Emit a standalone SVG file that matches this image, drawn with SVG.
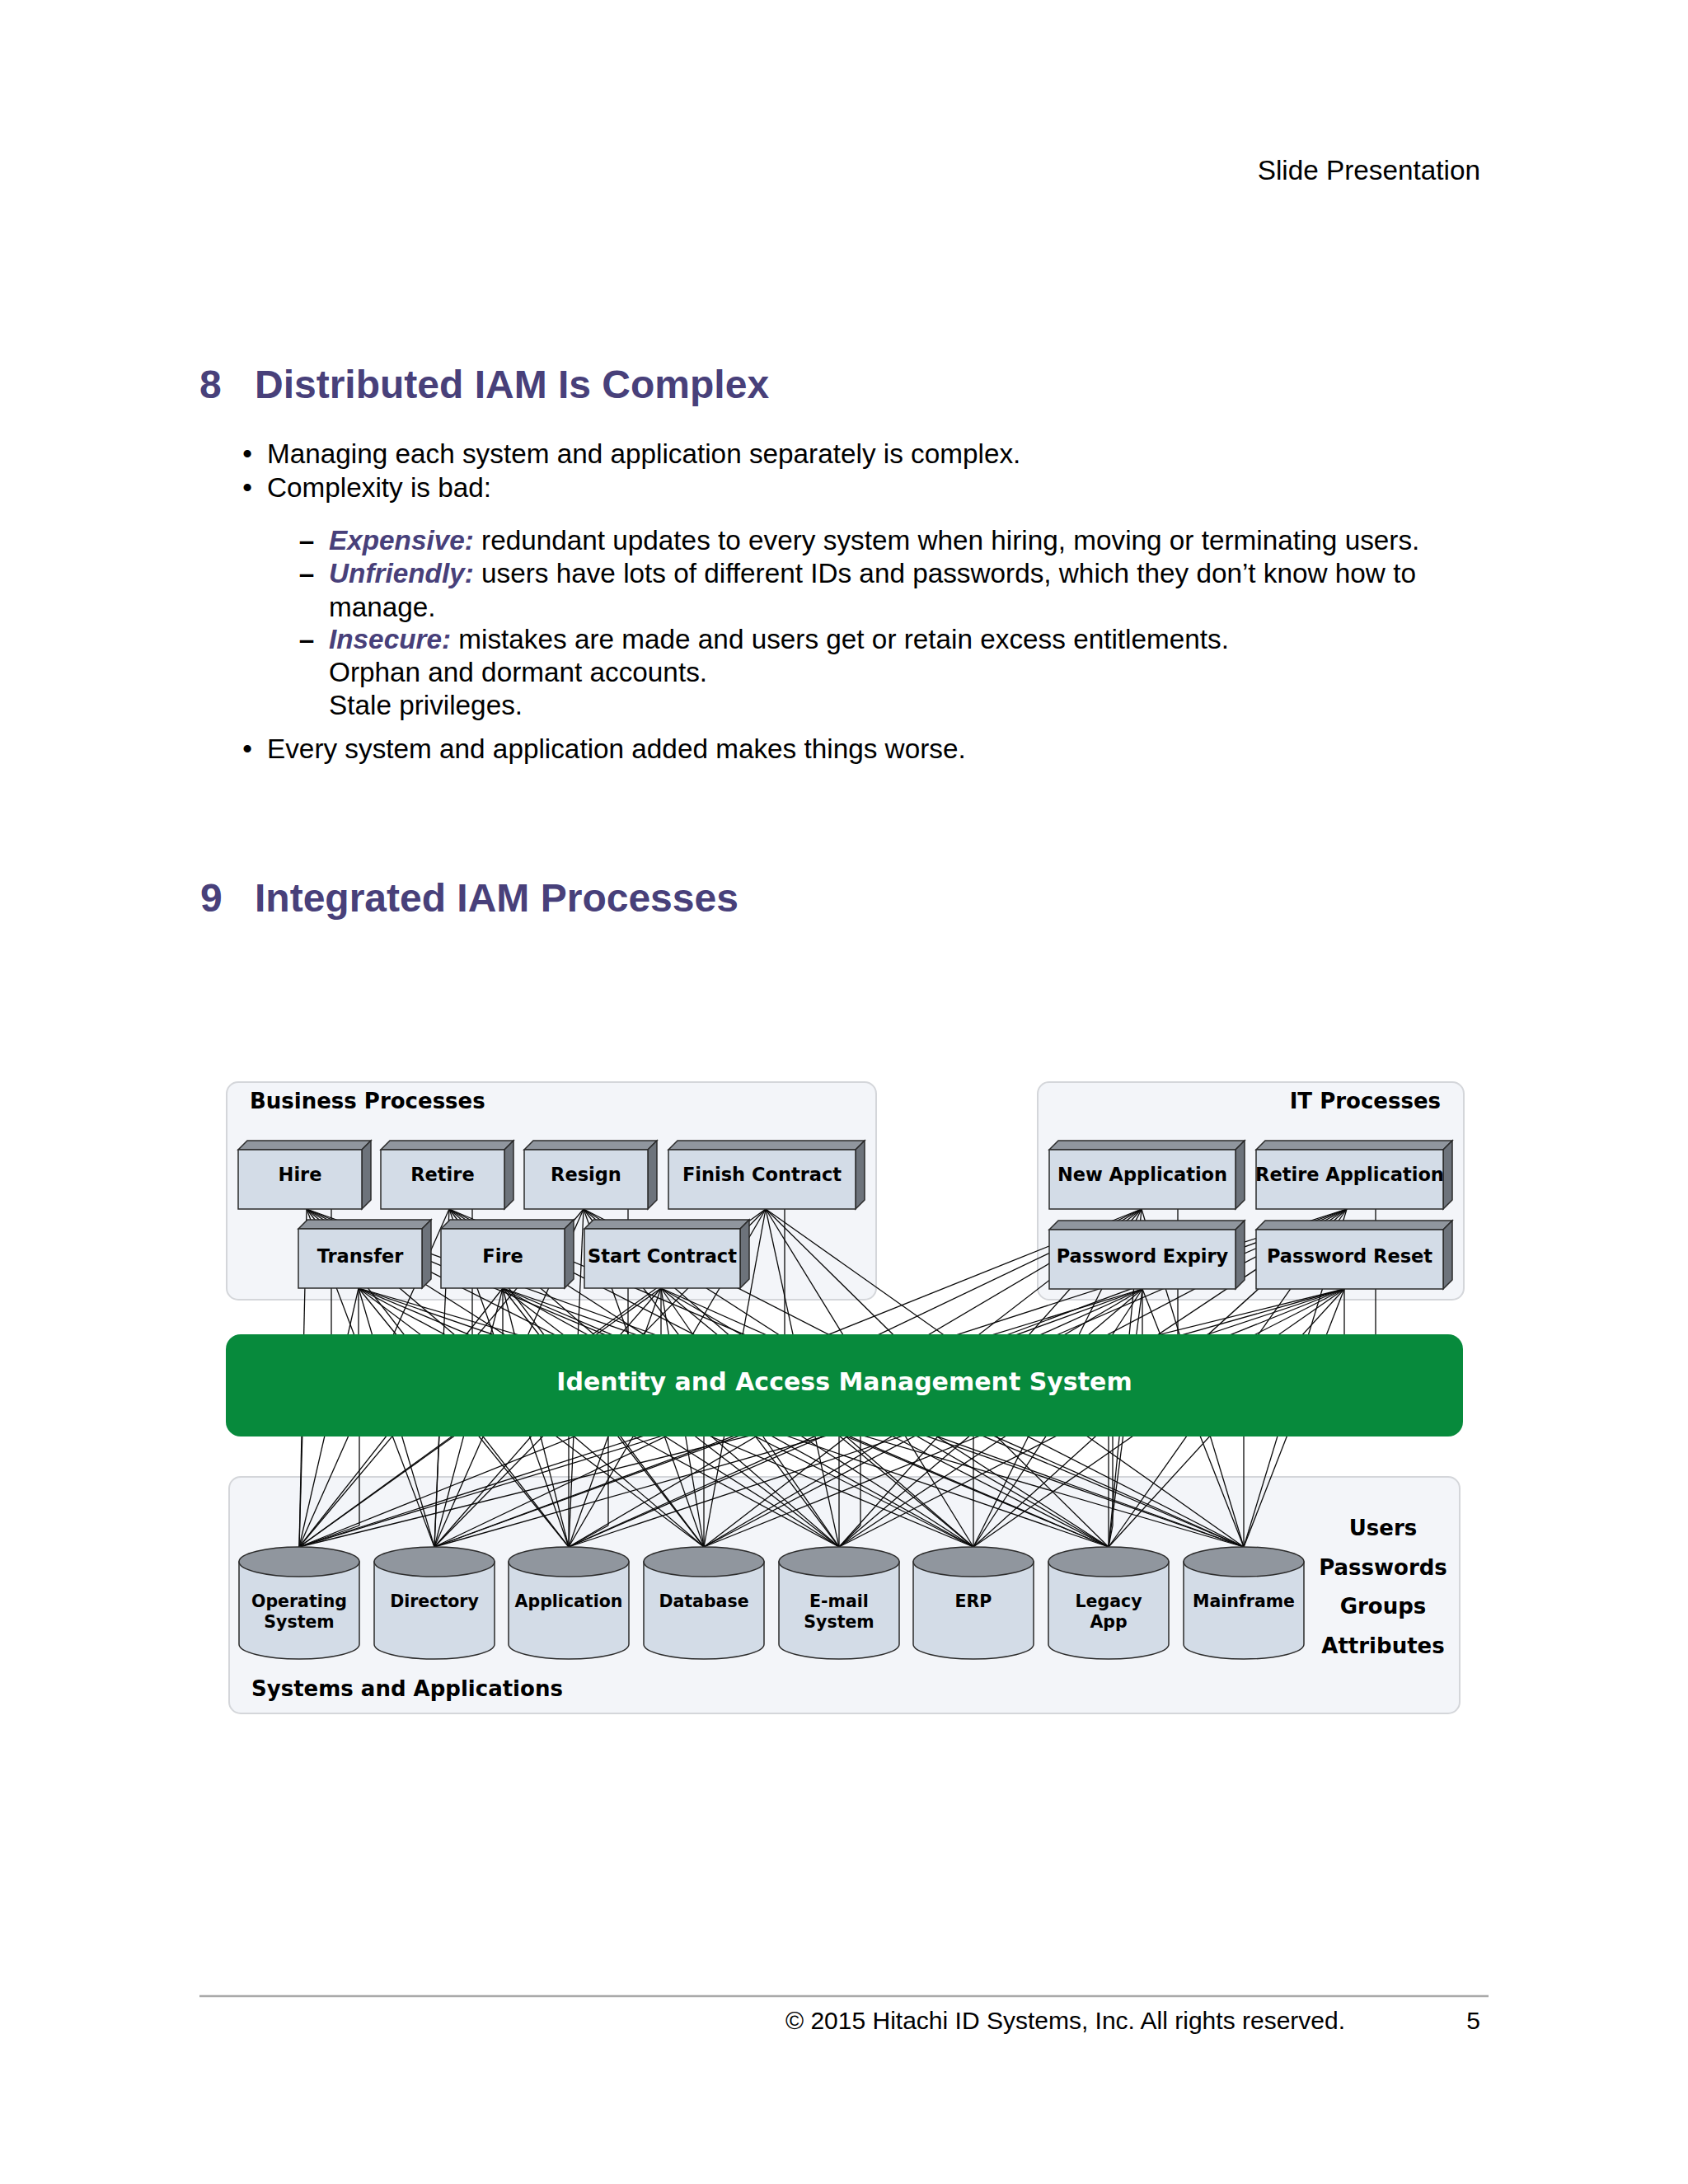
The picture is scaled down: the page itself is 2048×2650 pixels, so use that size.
<svg xmlns="http://www.w3.org/2000/svg" width="2048" height="2650" viewBox="0 0 2048 2650">
<style>
.h{font-family:"Liberation Sans",Arial,sans-serif;font-weight:bold;font-size:48px;fill:#48407a}
.p{font-family:"Liberation Sans",Arial,sans-serif;font-size:33.3px;fill:#000}
.em{font-weight:bold;font-style:italic;fill:#48407a}
.ft{font-family:"Liberation Sans",Arial,sans-serif;font-size:30px;fill:#000}
.d{font-family:"DejaVu Sans",Verdana,sans-serif;font-weight:bold;fill:#000}
.gl{font-size:26px}
.pl{font-size:22.5px;text-anchor:middle}
.cl{font-size:20.5px;text-anchor:middle}
.grp{fill:#f3f5f9;stroke:#d4d6da;stroke-width:2}
.front{fill:#d3dce7;stroke:#2b2b2b;stroke-width:1.5}
.top{fill:#90969e;stroke:#2b2b2b;stroke-width:1.5}
.side{fill:#6d737b;stroke:#2b2b2b;stroke-width:1.5}
.cyl{fill:#d3dce7;stroke:#2b2b2b;stroke-width:1.5}
.cyltop{fill:#90969e;stroke:#2b2b2b;stroke-width:1.5}
#connectors line{stroke:#0a0a0a;stroke-width:1.3}
</style>
<rect width="2048" height="2650" fill="#fff"/>

<g id="page-text">
<text class="p" x="1796" y="218" text-anchor="end">Slide Presentation</text>
<text class="h" x="242" y="483">8</text>
<text class="h" x="309" y="483">Distributed IAM Is Complex</text>
<text class="p" x="300" y="562" text-anchor="middle">•</text>
<text class="p" x="324" y="562">Managing each system and application separately is complex.</text>
<text class="p" x="300" y="603" text-anchor="middle">•</text>
<text class="p" x="324" y="603">Complexity is bad:</text>
<text class="p" x="372" y="667" text-anchor="middle" font-weight="bold">–</text>
<text class="p" x="399" y="667"><tspan class="em">Expensive:</tspan> redundant updates to every system when hiring, moving or terminating users.</text>
<text class="p" x="372" y="707" text-anchor="middle" font-weight="bold">–</text>
<text class="p" x="399" y="707"><tspan class="em">Unfriendly:</tspan> users have lots of different IDs and passwords, which they don’t know how to</text>
<text class="p" x="399" y="748">manage.</text>
<text class="p" x="372" y="787" text-anchor="middle" font-weight="bold">–</text>
<text class="p" x="399" y="787"><tspan class="em">Insecure:</tspan> mistakes are made and users get or retain excess entitlements.</text>
<text class="p" x="399" y="827">Orphan and dormant accounts.</text>
<text class="p" x="399" y="867">Stale privileges.</text>
<text class="p" x="300" y="920" text-anchor="middle">•</text>
<text class="p" x="324" y="920">Every system and application added makes things worse.</text>
<text class="h" x="243" y="1106">9</text>
<text class="h" x="309" y="1106">Integrated IAM Processes</text>
<line x1="242" y1="2422" x2="1806" y2="2422" stroke="#aaaaaa" stroke-width="2.5"/>
<text class="ft" x="953" y="2462">© 2015 Hitachi ID Systems, Inc. All rights reserved.</text>
<text class="ft" x="1796" y="2462" text-anchor="end">5</text>
</g>

<g id="group-business">
<rect class="grp" x="275" y="1313" width="788" height="264" rx="14"/>
<text class="d gl" x="303" y="1345">Business Processes</text>
</g>
<g id="group-it">
<rect class="grp" x="1259" y="1313" width="517" height="264" rx="14"/>
<text class="d gl" x="1748" y="1345" text-anchor="end">IT Processes</text>
</g>
<g id="group-systems">
<rect class="grp" x="278" y="1792" width="1493" height="287" rx="14"/>
<text class="d gl" x="305" y="2058">Systems and Applications</text>
<text class="d gl" x="1678" y="1863" text-anchor="middle">Users</text>
<text class="d gl" x="1678" y="1911" text-anchor="middle">Passwords</text>
<text class="d gl" x="1678" y="1958" text-anchor="middle">Groups</text>
<text class="d gl" x="1678" y="2006" text-anchor="middle">Attributes</text>
</g>

<g id="connectors">
<!-- Hire -->
<line x1="372" y1="1467" x2="363" y2="1877"/><line x1="372" y1="1467" x2="527" y2="1877"/><line x1="372" y1="1467" x2="690" y2="1877"/><line x1="372" y1="1467" x2="854" y2="1877"/><line x1="372" y1="1467" x2="1018" y2="1877"/><line x1="372" y1="1467" x2="1181" y2="1877"/><line x1="372" y1="1467" x2="1345" y2="1877"/><line x1="372" y1="1467" x2="1509" y2="1877"/>
<!-- Retire -->
<line x1="545" y1="1467" x2="363" y2="1877"/><line x1="545" y1="1467" x2="527" y2="1877"/><line x1="545" y1="1467" x2="690" y2="1877"/><line x1="545" y1="1467" x2="854" y2="1877"/><line x1="545" y1="1467" x2="1018" y2="1877"/><line x1="545" y1="1467" x2="1181" y2="1877"/><line x1="545" y1="1467" x2="1345" y2="1877"/><line x1="545" y1="1467" x2="1509" y2="1877"/>
<!-- Resign -->
<line x1="708" y1="1467" x2="363" y2="1877"/><line x1="708" y1="1467" x2="527" y2="1877"/><line x1="708" y1="1467" x2="690" y2="1877"/><line x1="708" y1="1467" x2="854" y2="1877"/><line x1="708" y1="1467" x2="1018" y2="1877"/><line x1="708" y1="1467" x2="1181" y2="1877"/><line x1="708" y1="1467" x2="1345" y2="1877"/><line x1="708" y1="1467" x2="1509" y2="1877"/>
<!-- Finish Contract -->
<line x1="929" y1="1467" x2="363" y2="1877"/><line x1="929" y1="1467" x2="527" y2="1877"/><line x1="929" y1="1467" x2="690" y2="1877"/><line x1="929" y1="1467" x2="854" y2="1877"/><line x1="929" y1="1467" x2="1018" y2="1877"/><line x1="929" y1="1467" x2="1181" y2="1877"/><line x1="929" y1="1467" x2="1345" y2="1877"/><line x1="929" y1="1467" x2="1509" y2="1877"/>
<!-- New Application -->
<line x1="1385" y1="1467" x2="363" y2="1877"/><line x1="1385" y1="1467" x2="527" y2="1877"/><line x1="1385" y1="1467" x2="690" y2="1877"/><line x1="1385" y1="1467" x2="854" y2="1877"/><line x1="1385" y1="1467" x2="1018" y2="1877"/><line x1="1385" y1="1467" x2="1181" y2="1877"/><line x1="1385" y1="1467" x2="1345" y2="1877"/><line x1="1385" y1="1467" x2="1509" y2="1877"/>
<!-- Retire Application -->
<line x1="1634" y1="1467" x2="363" y2="1877"/><line x1="1634" y1="1467" x2="527" y2="1877"/><line x1="1634" y1="1467" x2="690" y2="1877"/><line x1="1634" y1="1467" x2="854" y2="1877"/><line x1="1634" y1="1467" x2="1018" y2="1877"/><line x1="1634" y1="1467" x2="1181" y2="1877"/><line x1="1634" y1="1467" x2="1345" y2="1877"/><line x1="1634" y1="1467" x2="1509" y2="1877"/>
<!-- Transfer -->
<line x1="435" y1="1563" x2="363" y2="1877"/><line x1="435" y1="1563" x2="527" y2="1877"/><line x1="435" y1="1563" x2="690" y2="1877"/><line x1="435" y1="1563" x2="854" y2="1877"/><line x1="435" y1="1563" x2="1018" y2="1877"/><line x1="435" y1="1563" x2="1181" y2="1877"/><line x1="435" y1="1563" x2="1345" y2="1877"/><line x1="435" y1="1563" x2="1509" y2="1877"/>
<!-- Fire -->
<line x1="610" y1="1563" x2="363" y2="1877"/><line x1="610" y1="1563" x2="527" y2="1877"/><line x1="610" y1="1563" x2="690" y2="1877"/><line x1="610" y1="1563" x2="854" y2="1877"/><line x1="610" y1="1563" x2="1018" y2="1877"/><line x1="610" y1="1563" x2="1181" y2="1877"/><line x1="610" y1="1563" x2="1345" y2="1877"/><line x1="610" y1="1563" x2="1509" y2="1877"/>
<!-- Start Contract -->
<line x1="802" y1="1563" x2="363" y2="1877"/><line x1="802" y1="1563" x2="527" y2="1877"/><line x1="802" y1="1563" x2="690" y2="1877"/><line x1="802" y1="1563" x2="854" y2="1877"/><line x1="802" y1="1563" x2="1018" y2="1877"/><line x1="802" y1="1563" x2="1181" y2="1877"/><line x1="802" y1="1563" x2="1345" y2="1877"/><line x1="802" y1="1563" x2="1509" y2="1877"/>
<!-- Password Expiry -->
<line x1="1386" y1="1564" x2="363" y2="1877"/><line x1="1386" y1="1564" x2="527" y2="1877"/><line x1="1386" y1="1564" x2="690" y2="1877"/><line x1="1386" y1="1564" x2="854" y2="1877"/><line x1="1386" y1="1564" x2="1018" y2="1877"/><line x1="1386" y1="1564" x2="1181" y2="1877"/><line x1="1386" y1="1564" x2="1345" y2="1877"/><line x1="1386" y1="1564" x2="1509" y2="1877"/>
<!-- Password Reset -->
<line x1="1631" y1="1564" x2="363" y2="1877"/><line x1="1631" y1="1564" x2="527" y2="1877"/><line x1="1631" y1="1564" x2="690" y2="1877"/><line x1="1631" y1="1564" x2="854" y2="1877"/><line x1="1631" y1="1564" x2="1018" y2="1877"/><line x1="1631" y1="1564" x2="1181" y2="1877"/><line x1="1631" y1="1564" x2="1345" y2="1877"/><line x1="1631" y1="1564" x2="1509" y2="1877"/>
<!-- vertical drops into the IAM system -->
<line x1="402" y1="1467" x2="402" y2="1630"/><line x1="573" y1="1467" x2="573" y2="1630"/><line x1="762" y1="1467" x2="762" y2="1630"/><line x1="952" y1="1467" x2="952" y2="1630"/><line x1="1429" y1="1467" x2="1429" y2="1630"/><line x1="1669" y1="1467" x2="1669" y2="1630"/>
<line x1="435" y1="1563" x2="435" y2="1630"/><line x1="610" y1="1563" x2="610" y2="1630"/><line x1="802" y1="1563" x2="802" y2="1630"/><line x1="1386" y1="1564" x2="1386" y2="1630"/><line x1="1631" y1="1564" x2="1631" y2="1630"/>
<!-- vertical drops from the IAM system -->
<line x1="367" y1="1735" x2="363" y2="1877"/><line x1="533" y1="1735" x2="527" y2="1877"/><line x1="690" y1="1735" x2="690" y2="1877"/><line x1="854" y1="1735" x2="854" y2="1877"/><line x1="1018" y1="1735" x2="1018" y2="1877"/><line x1="1181" y1="1735" x2="1181" y2="1877"/><line x1="1345" y1="1735" x2="1345" y2="1877"/><line x1="1509" y1="1735" x2="1509" y2="1877"/>
<line x1="436" y1="1735" x2="436" y2="1851"/><line x1="436" y1="1851" x2="363" y2="1877"/>
<line x1="738" y1="1735" x2="738" y2="1851"/><line x1="738" y1="1851" x2="690" y2="1877"/>
<line x1="1044" y1="1735" x2="1044" y2="1851"/><line x1="1044" y1="1851" x2="1018" y2="1877"/>
<line x1="1350" y1="1735" x2="1350" y2="1851"/><line x1="1350" y1="1851" x2="1345" y2="1877"/>
</g>

<g id="node-hire">
<polygon class="top" points="289,1395 300,1384 450,1384 439,1395"/>
<polygon class="side" points="439,1395 450,1384 450,1456 439,1467"/>
<rect class="front" x="289" y="1395" width="150" height="72"/>
<text class="d pl" x="364" y="1433">Hire</text>
</g>
<g id="node-retire">
<polygon class="top" points="462,1395 473,1384 623,1384 612,1395"/>
<polygon class="side" points="612,1395 623,1384 623,1456 612,1467"/>
<rect class="front" x="462" y="1395" width="150" height="72"/>
<text class="d pl" x="537" y="1433">Retire</text>
</g>
<g id="node-resign">
<polygon class="top" points="636,1395 647,1384 797,1384 786,1395"/>
<polygon class="side" points="786,1395 797,1384 797,1456 786,1467"/>
<rect class="front" x="636" y="1395" width="150" height="72"/>
<text class="d pl" x="711" y="1433">Resign</text>
</g>
<g id="node-finish-contract">
<polygon class="top" points="811,1395 822,1384 1049,1384 1038,1395"/>
<polygon class="side" points="1038,1395 1049,1384 1049,1456 1038,1467"/>
<rect class="front" x="811" y="1395" width="227" height="72"/>
<text class="d pl" x="924.5" y="1433">Finish Contract</text>
</g>
<g id="node-transfer">
<polygon class="top" points="362,1491 373,1480 523,1480 512,1491"/>
<polygon class="side" points="512,1491 523,1480 523,1552 512,1563"/>
<rect class="front" x="362" y="1491" width="150" height="72"/>
<text class="d pl" x="437" y="1532">Transfer</text>
</g>
<g id="node-fire">
<polygon class="top" points="535,1491 546,1480 696,1480 685,1491"/>
<polygon class="side" points="685,1491 696,1480 696,1552 685,1563"/>
<rect class="front" x="535" y="1491" width="150" height="72"/>
<text class="d pl" x="610" y="1532">Fire</text>
</g>
<g id="node-start-contract">
<polygon class="top" points="709,1491 720,1480 909,1480 898,1491"/>
<polygon class="side" points="898,1491 909,1480 909,1552 898,1563"/>
<rect class="front" x="709" y="1491" width="189" height="72"/>
<text class="d pl" x="803.5" y="1532">Start Contract</text>
</g>
<g id="node-new-application">
<polygon class="top" points="1273,1395 1284,1384 1510,1384 1499,1395"/>
<polygon class="side" points="1499,1395 1510,1384 1510,1456 1499,1467"/>
<rect class="front" x="1273" y="1395" width="226" height="72"/>
<text class="d pl" x="1386" y="1433">New Application</text>
</g>
<g id="node-retire-application">
<polygon class="top" points="1524,1395 1535,1384 1762,1384 1751,1395"/>
<polygon class="side" points="1751,1395 1762,1384 1762,1456 1751,1467"/>
<rect class="front" x="1524" y="1395" width="227" height="72"/>
<text class="d pl" x="1637.5" y="1433">Retire Application</text>
</g>
<g id="node-password-expiry">
<polygon class="top" points="1273,1492 1284,1481 1510,1481 1499,1492"/>
<polygon class="side" points="1499,1492 1510,1481 1510,1553 1499,1564"/>
<rect class="front" x="1273" y="1492" width="226" height="72"/>
<text class="d pl" x="1386" y="1532">Password Expiry</text>
</g>
<g id="node-password-reset">
<polygon class="top" points="1524,1492 1535,1481 1762,1481 1751,1492"/>
<polygon class="side" points="1751,1492 1762,1481 1762,1553 1751,1564"/>
<rect class="front" x="1524" y="1492" width="227" height="72"/>
<text class="d pl" x="1637.5" y="1532">Password Reset</text>
</g>

<g id="node-iam">
<rect x="274" y="1619" width="1501" height="124" rx="18" fill="#078a3c"/>
<text class="d" x="1024.5" y="1687" font-size="30" style="fill:#fff" text-anchor="middle">Identity and Access Management System</text>
</g>

<g id="node-operating-system">
<path class="cyl" d="M290 1895 V1995 A73 18 0 0 0 436 1995 V1895 Z"/>
<ellipse class="cyltop" cx="363" cy="1895" rx="73" ry="18"/>
<text class="d cl" x="363" y="1950">Operating</text>
<text class="d cl" x="363" y="1975">System</text>
</g>
<g id="node-directory">
<path class="cyl" d="M454 1895 V1995 A73 18 0 0 0 600 1995 V1895 Z"/>
<ellipse class="cyltop" cx="527" cy="1895" rx="73" ry="18"/>
<text class="d cl" x="527" y="1950">Directory</text>
</g>
<g id="node-application">
<path class="cyl" d="M617 1895 V1995 A73 18 0 0 0 763 1995 V1895 Z"/>
<ellipse class="cyltop" cx="690" cy="1895" rx="73" ry="18"/>
<text class="d cl" x="690" y="1950">Application</text>
</g>
<g id="node-database">
<path class="cyl" d="M781 1895 V1995 A73 18 0 0 0 927 1995 V1895 Z"/>
<ellipse class="cyltop" cx="854" cy="1895" rx="73" ry="18"/>
<text class="d cl" x="854" y="1950">Database</text>
</g>
<g id="node-email-system">
<path class="cyl" d="M945 1895 V1995 A73 18 0 0 0 1091 1995 V1895 Z"/>
<ellipse class="cyltop" cx="1018" cy="1895" rx="73" ry="18"/>
<text class="d cl" x="1018" y="1950">E-mail</text>
<text class="d cl" x="1018" y="1975">System</text>
</g>
<g id="node-erp">
<path class="cyl" d="M1108 1895 V1995 A73 18 0 0 0 1254 1995 V1895 Z"/>
<ellipse class="cyltop" cx="1181" cy="1895" rx="73" ry="18"/>
<text class="d cl" x="1181" y="1950">ERP</text>
</g>
<g id="node-legacy-app">
<path class="cyl" d="M1272 1895 V1995 A73 18 0 0 0 1418 1995 V1895 Z"/>
<ellipse class="cyltop" cx="1345" cy="1895" rx="73" ry="18"/>
<text class="d cl" x="1345" y="1950">Legacy</text>
<text class="d cl" x="1345" y="1975">App</text>
</g>
<g id="node-mainframe">
<path class="cyl" d="M1436 1895 V1995 A73 18 0 0 0 1582 1995 V1895 Z"/>
<ellipse class="cyltop" cx="1509" cy="1895" rx="73" ry="18"/>
<text class="d cl" x="1509" y="1950">Mainframe</text>
</g>
</svg>
